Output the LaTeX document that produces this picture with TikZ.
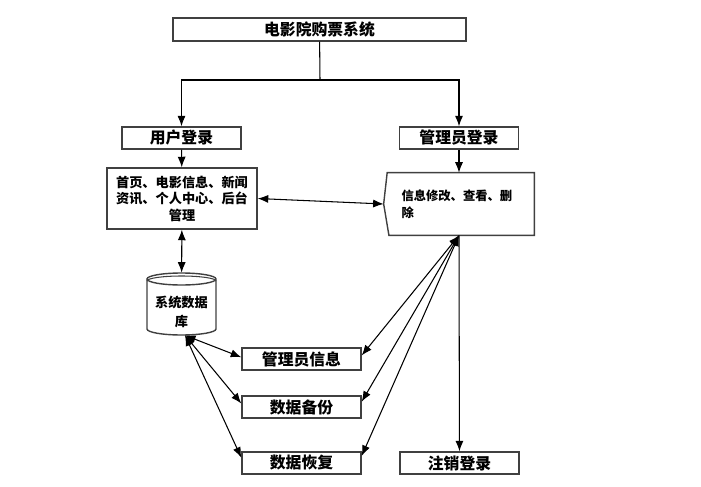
\documentclass[tikz,border=0pt]{standalone}
\usepackage{fontspec}
\setmainfont{Noto Sans CJK SC}
\usepackage{tikz}
\usetikzlibrary{
    arrows.meta,
    positioning
}

\tikzset{
    boxline/.style={draw=black!75, line width=0.8pt},
    sysbox/.style={boxline, inner sep=0pt, font=\fontsize{9}{11}\selectfont\bfseries},
    link/.style={line width=0.6pt, >={Latex[length=6pt, width=4.6pt]}}
}

\begin{document}
\begin{tikzpicture}[x=0.02cm, y=-0.02cm]
                        \useasboundingbox (0, 0) rectangle (701, 487);

                        \node[sysbox, minimum width=5.86cm, minimum height=0.46cm] (title) at (319.5, 29.5) {电影院购票系统};
                        \node[sysbox, minimum width=2.38cm, minimum height=0.44cm] (ulogin) at (181.5, 138) {用户登录};
                        \node[sysbox, minimum width=2.38cm, minimum height=0.44cm] (alogin) at (459, 138) {管理员登录};
                        \coordinate (split) at (320, 80);

                        \node[boxline, inner sep=0pt, minimum width=3cm, minimum height=1.22cm,
                            text width=2.7cm, align=center, font=\fontsize{7.5}{9.4}\selectfont\bfseries]
                            (umenu) at (182, 198.5) {首页、电影信息、新闻\\资讯、个人中心、后台\\管理};
                        \node[inner sep=0pt, minimum width=3cm, minimum height=1.24cm,
                            text width=2.3cm, align=left, font=\fontsize{7}{9.6}\selectfont\bfseries]
                            (admop) at (459, 204) {信息修改、查看、删\\除};
                        \draw[boxline] ([xshift=2pt]admop.north west) -- (admop.north east)
                            -- (admop.south east) -- ([xshift=3pt]admop.south west) -- (admop.west) -- cycle;

                        % database drum
                        \node[inner sep=0pt, minimum width=1.38cm, minimum height=1.24cm] (db) at (181.5, 304) {};
                        \draw[boxline] (147, 279) -- (147, 329)
                            arc[start angle=180, end angle=360, x radius=0.69cm, y radius=0.12cm]
                            -- (216, 279)
                            arc[start angle=0, end angle=180, x radius=0.69cm, y radius=0.12cm]
                            arc[start angle=180, end angle=360, x radius=0.69cm, y radius=0.12cm];
                        \draw[draw=black!75, line width=0.6pt] (216, 281)
                            arc[start angle=0, end angle=180, x radius=0.69cm, y radius=0.1cm];
                        \node[inner sep=0pt, align=center, font=\fontsize{7.5}{10.8}\selectfont\bfseries]
                            (dbtext) at (181.5, 312) {系统数据\\库};

                        \node[sysbox, minimum width=2.38cm, minimum height=0.44cm] (ainfo) at (301.5, 359) {管理员信息};
                        \node[sysbox, minimum width=2.38cm, minimum height=0.44cm] (backup) at (301.5, 407) {数据备份};
                        \node[sysbox, minimum width=2.38cm, minimum height=0.44cm] (restore) at (301.5, 463) {数据恢复};
                        \node[sysbox, minimum width=2.38cm, minimum height=0.44cm] (logout) at (459.5, 463) {注销登录};

                        \draw[link]
                        (title) -- (split)
                        (split) edge[->, to path={-| (\tikztotarget)}] (ulogin)
                        (split) edge[->, to path={-| (\tikztotarget)}] (alogin)
                        (ulogin) edge[->] (umenu)
                        (alogin) edge[->] (admop.north -| alogin)
                        (umenu.east) edge[<->] (admop.west)
                        (umenu) edge[<->] (db)
                        ([xshift=2pt]db.south) edge[<->] ([yshift=1pt]ainfo.west)
                        ([xshift=2pt]db.south) edge[<->] ([yshift=2pt]backup.west)
                        ([xshift=2pt]db.south) edge[<->] ([yshift=3pt]restore.west)
                        (admop.south) edge[<->] ([yshift=2pt]ainfo.east)
                        (admop.south) edge[<->] ([yshift=3pt]backup.east)
                        (admop.south) edge[<->] ([yshift=4pt]restore.east)
                        (admop.south) edge[->] (logout);
                    \end{tikzpicture}
\end{document}
